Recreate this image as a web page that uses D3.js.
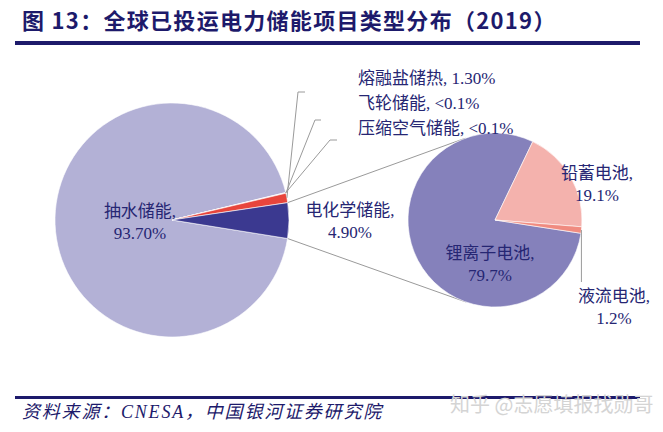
<!DOCTYPE html>
<html>
<head>
<meta charset="utf-8">
<script src="https://cdn.jsdelivr.net/npm/d3@7"></script>
<style>
  body { margin: 0; background: #fff; }
  svg { display: block; }
  .lbl { font-family: "Liberation Serif", "Noto Sans CJK SC", serif; font-size: 17px; fill: #262673; }
</style>
</head>
<body>
<div class="chart"></div>
<script>
// main pie: all storage types (2019)
var mainCats = ["抽水储能", "压缩空气储能", "飞轮储能", "熔融盐储热", "电化学储能"];
var mainValues = [93.7, 0.05, 0.05, 1.3, 4.9];
var mainText = ["93.70%", "<0.1%", "<0.1%", "1.30%", "4.90%"];

// secondary pie: electrochemical split
var subCats = ["锂离子电池", "铅蓄电池", "液流电池"];
var subValues = [79.7, 19.1, 1.2];
var subText = ["79.7%", "19.1%", "1.2%"];

var svgWidth = 663;
var svgHeight = 432;

var svg = d3.select(".chart")
  .append("svg")
  .attr("width", svgWidth)
  .attr("height", svgHeight);

var navy = "#1d1a6b";
var deg = Math.PI / 180;

// title + rules
svg.append("text")
  .attr("x", 22)
  .attr("y", 29)
  .attr("font-family", "Noto Sans CJK SC")
  .attr("font-weight", "bold")
  .attr("font-size", 22)
  .attr("letter-spacing", 1.3)
  .attr("fill", navy)
  .text("图 13：全球已投运电力储能项目类型分布（2019）");

svg.append("rect").attr("x", 15).attr("y", 41).attr("width", 625).attr("height", 4).attr("fill", navy);
svg.append("rect").attr("x", 15).attr("y", 396).attr("width", 625).attr("height", 3).attr("fill", navy);

svg.append("text")
  .attr("x", 22)
  .attr("y", 418)
  .attr("font-family", "Liberation Serif, Noto Sans CJK SC")
  .attr("font-style", "italic")
  .attr("font-size", 18)
  .attr("letter-spacing", 1.8)
  .attr("fill", navy)
  .text("资料来源：CNESA，中国银河证券研究院");

// watermark
svg.append("text")
  .attr("x", 450)
  .attr("y", 412)
  .attr("font-family", "Noto Sans CJK SC")
  .attr("font-size", 20)
  .attr("fill", "#d4d4d4")
  .text("知乎 @志愿填报找勋哥");

// pie layouts
var mainC = {x: 172, y: 220, r: 117};
var subC = {x: 495, y: 220, r: 87};

var mainColors = d3.scaleOrdinal()
  .domain(mainCats)
  .range(["#b3b1d6", "#c9c7e3", "#d8d6ec", "#e8453c", "#3b3990"]);
var subColors = d3.scaleOrdinal()
  .domain(subCats)
  .range(["#8581bb", "#f4b2ad", "#f08b80"]);

var mainPie = d3.pie().sort(null).value(d => d)
  .startAngle(99.1 * deg).endAngle(459.1 * deg);
var subPie = d3.pie().sort(null).value(d => d)
  .startAngle(98.8 * deg).endAngle(458.8 * deg);

var mainArcs = mainPie(mainValues);
var subArcs = subPie(subValues);

var mainArc = d3.arc().innerRadius(0).outerRadius(mainC.r);
var subArc = d3.arc().innerRadius(0).outerRadius(subC.r);

// point on a circle at a d3 pie angle (0 = up, clockwise)
function onCircle(c, a, r) {
  return [c.x + (r || c.r) * Math.sin(a), c.y - (r || c.r) * Math.cos(a)];
}

var lineColor = "#9a9a9a";

// connector lines (tangent from electro slice edges to the second pie)
var electro = mainArcs[4];
function tangent(p, c, upper) {
  var dx = p[0] - c.x, dy = p[1] - c.y;
  var d = Math.sqrt(dx * dx + dy * dy);
  var th = Math.atan2(dy, dx);
  var al = Math.acos(c.r / d);
  var t = upper ? th + al : th - al;
  return [c.x + c.r * Math.cos(t), c.y + c.r * Math.sin(t)];
}
var pTop = onCircle(mainC, electro.startAngle);
var pBot = onCircle(mainC, electro.endAngle);
[[pTop, tangent(pTop, subC, true)], [pBot, tangent(pBot, subC, false)]].forEach(function(seg) {
  svg.append("line")
    .attr("x1", seg[0][0]).attr("y1", seg[0][1])
    .attr("x2", seg[1][0]).attr("y2", seg[1][1])
    .attr("stroke", lineColor)
    .attr("stroke-width", 1);
});

// pies
svg.append("g")
  .attr("transform", `translate(${mainC.x}, ${mainC.y})`)
  .selectAll("path")
  .data(mainArcs)
  .enter()
  .append("path")
  .attr("d", mainArc)
  .attr("fill", (d, i) => mainColors(mainCats[i]))
  .attr("stroke", "#fff")
  .attr("stroke-width", 0.6);

svg.append("g")
  .attr("transform", `translate(${subC.x}, ${subC.y})`)
  .selectAll("path")
  .data(subArcs)
  .enter()
  .append("path")
  .attr("d", subArc)
  .attr("fill", (d, i) => subColors(subCats[i]))
  .attr("stroke", "#fff")
  .attr("stroke-width", 0.6);

// leader lines for the tiny slices (elbow at top)
var smallIdx = [3, 2, 1];
var elbows = [[298, 92, 305], [315, 120, 321], [330, 140, 337]];
var labelY = [78, 103, 128];
smallIdx.forEach(function(i, k) {
  var a = (mainArcs[i].startAngle + mainArcs[i].endAngle) / 2;
  var p = onCircle(mainC, a);
  var e = elbows[k];
  svg.append("polyline")
    .attr("points", `${p[0]},${p[1]} ${e[0]},${e[1]} ${e[2]},${e[1]}`)
    .attr("fill", "none")
    .attr("stroke", lineColor)
    .attr("stroke-width", 1);
  svg.append("text")
    .attr("class", "lbl")
    .attr("x", 358)
    .attr("y", labelY[k])
    .attr("dy", "0.35em")
    .text(mainCats[i] + ", " + mainText[i]);
});

// flow battery leader
var fa = (subArcs[2].startAngle + subArcs[2].endAngle) / 2;
var fp = onCircle(subC, fa);
svg.append("line")
  .attr("x1", fp[0]).attr("y1", fp[1])
  .attr("x2", fp[0]).attr("y2", 282)
  .attr("stroke", lineColor)
  .attr("stroke-width", 1);

// two-line labels
function twoLine(x, y, name, val) {
  var t = svg.append("text")
    .attr("class", "lbl")
    .attr("text-anchor", "middle");
  t.append("tspan").attr("x", x).attr("y", y).attr("dy", "0.35em").text(name + ",");
  t.append("tspan").attr("x", x).attr("y", y + 22).attr("dy", "0.35em").text(val);
}
twoLine(140, 211, mainCats[0], mainText[0]);
twoLine(350, 210, mainCats[4], mainText[4]);
twoLine(490, 253, subCats[0], subText[0]);
twoLine(597, 173, subCats[1], subText[1]);
twoLine(614, 296, subCats[2], subText[2]);
</script>
</body>
</html>
